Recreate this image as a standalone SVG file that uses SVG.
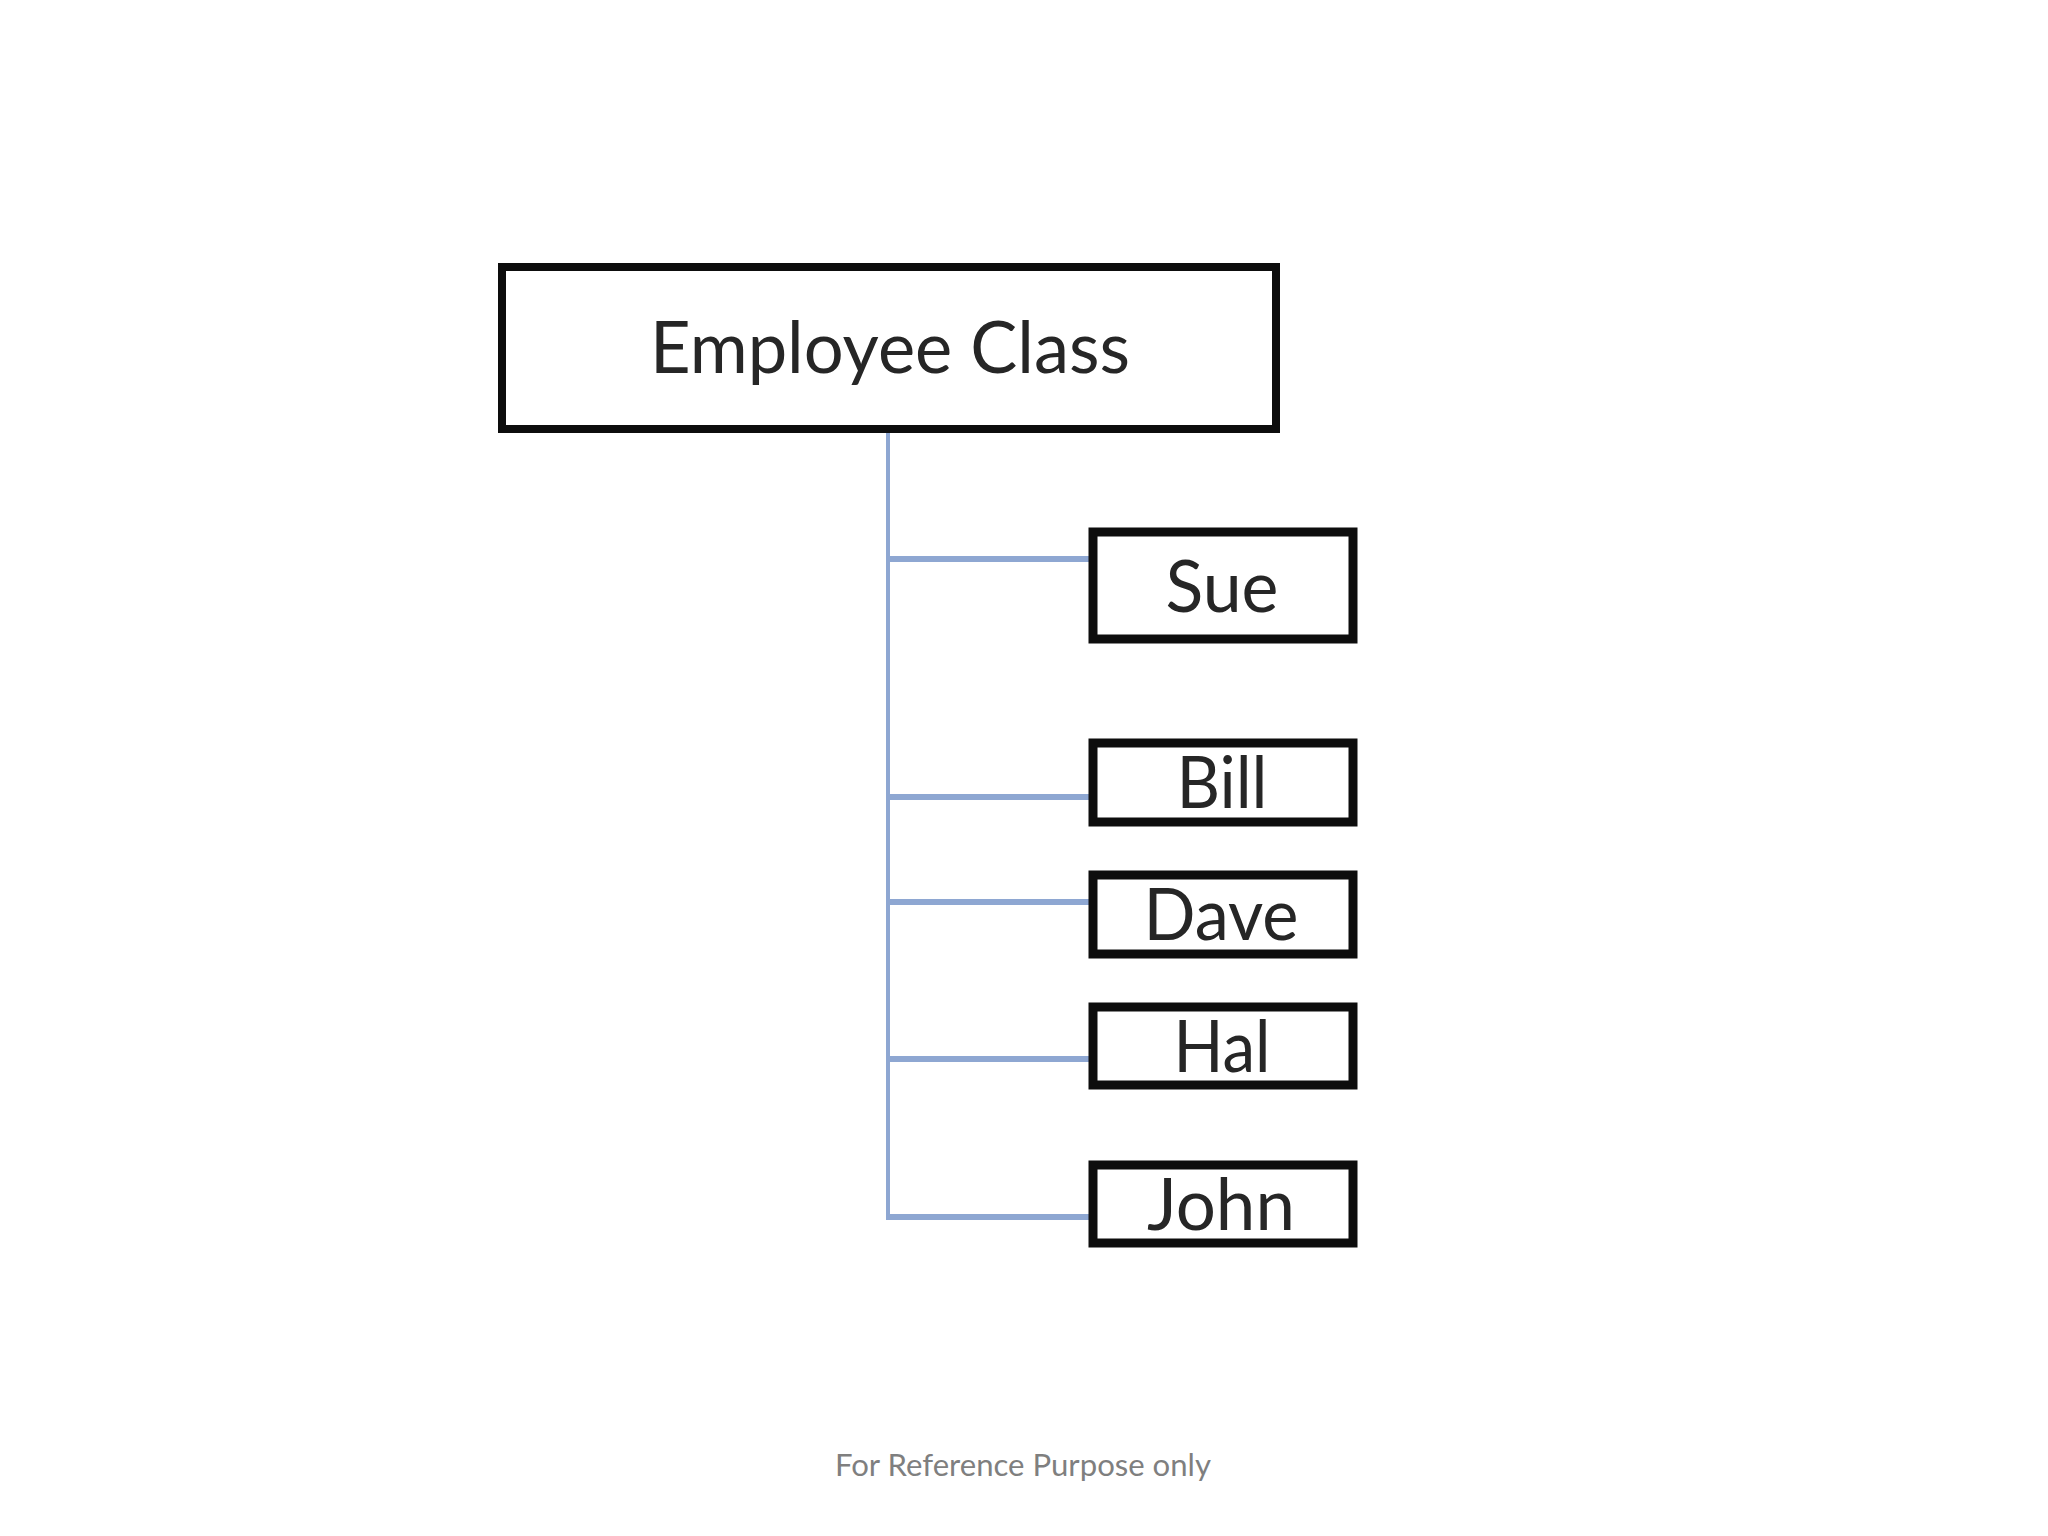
<svg xmlns="http://www.w3.org/2000/svg" width="2048" height="1536" viewBox="0 0 2048 1536">
  <style>
    .box { fill: #ffffff; stroke: #0d0d0d; stroke-linejoin: miter; }
    .lbl { font-family: Lato, "Liberation Sans", sans-serif; font-size: 72px; fill: #262626; text-anchor: middle; }
    .conn { stroke: #8ea7d2; fill: none; }
    .foot { font-family: Lato, "Liberation Sans", sans-serif; font-size: 31px; fill: #7f7f7f; text-anchor: middle; }
  </style>
  <rect width="2048" height="1536" fill="#ffffff"/>
  <g id="connectors">
    <line class="conn" x1="888" y1="433" x2="888" y2="1219" stroke-width="4"/>
    <line class="conn" x1="888" y1="559" x2="1090" y2="559" stroke-width="6"/>
    <line class="conn" x1="888" y1="797" x2="1090" y2="797" stroke-width="6"/>
    <line class="conn" x1="888" y1="902" x2="1090" y2="902" stroke-width="6"/>
    <line class="conn" x1="888" y1="1059" x2="1090" y2="1059" stroke-width="6"/>
    <line class="conn" x1="886" y1="1217" x2="1090" y2="1217" stroke-width="6"/>
  </g>
  <g id="employee-class">
    <rect class="box" x="502" y="267" width="774" height="162" stroke-width="8"/>
    <text class="lbl" x="890" y="373" font-size="70" textLength="480" lengthAdjust="spacingAndGlyphs">Employee Class</text>
  </g>
  <g id="sue">
    <rect class="box" x="1093" y="532" width="260" height="107" stroke-width="9"/>
    <text class="lbl" x="1222" y="612" textLength="113" lengthAdjust="spacingAndGlyphs">Sue</text>
  </g>
  <g id="bill">
    <rect class="box" x="1093" y="743" width="260" height="79" stroke-width="9"/>
    <text class="lbl" x="1222" y="808" textLength="91" lengthAdjust="spacingAndGlyphs">Bill</text>
  </g>
  <g id="dave">
    <rect class="box" x="1093" y="875" width="260" height="79" stroke-width="9"/>
    <text class="lbl" x="1221" y="940" textLength="155" lengthAdjust="spacingAndGlyphs">Dave</text>
  </g>
  <g id="hal">
    <rect class="box" x="1093" y="1007" width="260" height="78" stroke-width="9"/>
    <text class="lbl" x="1222" y="1072" textLength="97" lengthAdjust="spacingAndGlyphs">Hal</text>
  </g>
  <g id="john">
    <rect class="box" x="1093" y="1165" width="260" height="78" stroke-width="9"/>
    <text class="lbl" x="1221" y="1230" textLength="148" lengthAdjust="spacingAndGlyphs">John</text>
  </g>
  <text class="foot" x="1023" y="1476" textLength="376" lengthAdjust="spacingAndGlyphs">For Reference Purpose only</text>
</svg>
